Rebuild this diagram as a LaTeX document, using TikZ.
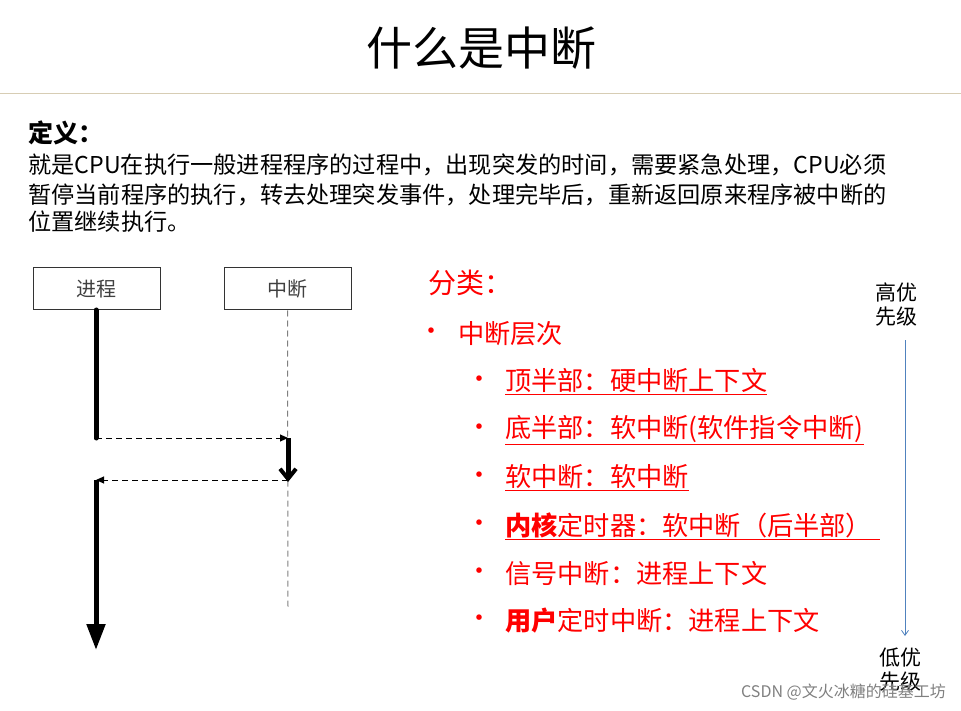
\documentclass[tikz,border=0pt]{standalone}
\usepackage{fontspec}
\setmainfont{Noto Sans CJK SC}
\usetikzlibrary{arrows.meta}
\definecolor{myred}{RGB}{255,0,0}
\tikzset{
  box/.style={draw=black!80,line width=1pt,minimum width=127pt,minimum height=42pt,inner sep=0pt,font=\fontsize{20}{20}\selectfont,text=black!75},
  thick line/.style={line width=5pt},
  msg/.style={dashed,line width=1pt,dash pattern=on 6pt off 4pt,-{Triangle[length=8pt,width=7pt]}},
  life/.style={dashed,gray,line width=1pt,dash pattern=on 6pt off 4pt},
  para/.style={anchor=west,inner sep=0pt,font=\fontsize{23.2}{20}\selectfont},
  item/.style={anchor=west,inner sep=0pt,text=myred,font=\fontsize{26.2}{24}\selectfont},
  dot/.style={anchor=center,inner sep=0pt,text=myred,font=\fontsize{26}{26}\selectfont},
}
\begin{document}
\begin{tikzpicture}[x=1pt,y=-1pt]
\useasboundingbox (0,0) rectangle (961,711);
\node[font=\fontsize{46}{46}\selectfont] (title) at (481,48) {什么是中断};
\draw[color={rgb,255:red,215;green,205;blue,180},line width=0.8pt] (0,93) -- (961,93);
\node[anchor=west,inner sep=0pt,font=\fontsize{25}{25}\selectfont\bfseries] (def) at (28,133) {定义：};
\node[para] (p1) at (28,165) {就是CPU在执行一般进程程序的过程中，出现突发的时间，需要紧急处理，CPU必须};
\node[para] (p2) at (28,195) {暂停当前程序的执行，转去处理突发事件，处理完毕后，重新返回原来程序被中断的};
\node[para] (p3) at (28,222) {位置继续执行。};
% sequence diagram
\node[box] (proc) at (96.5,289) {进程};
\node[box] (intr) at (287.5,289) {中断};
\coordinate (a1) at (96,438);
\coordinate (b1) at (288,438);
\coordinate (b2) at (288,482);
\coordinate (a2) at (96,480);
\coordinate (a3) at (96,650);
\coordinate (lifeEnd) at (288,608);
\draw[life] (intr.south) -- (lifeEnd);
\draw[thick line,line cap=round] (96,310) -- (a1);
\draw[msg] (a1) -- (b1);
\draw[thick line,-{Straight Barb[length=10pt,width=16pt,line width=4pt]}] (b1) -- (b2);
\draw[msg] (288,480) -- (a2);
\draw[thick line,-{Triangle[length=26pt,width=18pt]}] (a2) -- (a3);
% classification
\node[anchor=west,inner sep=0pt,text=myred,font=\fontsize{28}{28}\selectfont] (cls) at (428,283) {分类：};
\node[dot] (d0) at (431,334) {•};
\node[item] (i0) at (458,334) {中断层次};
\node[dot] (d1) at (479,382) {•};
\node[item] (i1) at (505,382) {\underline{顶半部：硬中断上下文}};
\node[dot] (d2) at (479,430) {•};
\node[item] (i2) at (505,430) {\underline{底半部：软中断(软件指令中断)}};
\node[dot] (d3) at (479,478) {•};
\node[item] (i3) at (505,478) {\underline{软中断：软中断}};
\node[dot] (d4) at (479,526) {•};
\node[item] (i4) at (505,526) {\underline{\textbf{内核}定时器：软中断（后半部）\hspace{8pt}}};
\node[dot] (d5) at (479,574) {•};
\node[item] (i5) at (505,574) {信号中断：进程上下文};
\node[dot] (d6) at (479,621) {•};
\node[item] (i6) at (505,621) {\textbf{用户}定时中断：进程上下文};
% priority
\node[align=center,font=\fontsize{21}{24}\selectfont] (hi) at (896,305) {高优\\先级};
\node[align=center,font=\fontsize{21}{24}\selectfont] (lo) at (900,670) {低优\\先级};
\draw[color={rgb,255:red,80;green,130;blue,190},line width=0.8pt,-{Straight Barb[length=5pt,width=7pt]}] (905,340) -- (905,636);
\node[anchor=east,inner sep=0pt,text=gray,font=\fontsize{16}{16}\selectfont] (wm) at (946,692) {CSDN @文火冰糖的硅基工坊};
\end{tikzpicture}
\end{document}
